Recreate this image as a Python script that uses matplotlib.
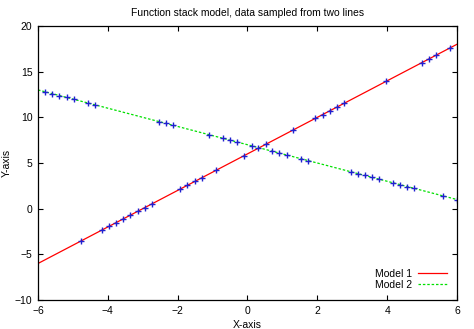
import matplotlib
matplotlib.use("Agg")
import matplotlib.pyplot as plt

# model lines (endpoints over the plotted range)
model1_x = [-6, 6]
model1_y = [-6, 18]
model2_x = [-6, 6]
model2_y = [13, 1]

# sampled data points
data1_x = [-4.77, -4.17, -3.97, -3.77, -3.56, -3.36, -3.15, -2.94, -2.73,
           -1.93, -1.72, -1.51, -1.31, -0.90, -0.10, 0.52, 1.31, 1.94, 2.15,
           2.35, 2.56, 2.76, 3.97, 4.99, 5.20, 5.40, 5.81]
data1_y = [-3.54, -2.34, -1.94, -1.54, -1.12, -0.72, -0.30, 0.12, 0.54,
           2.14, 2.56, 2.98, 3.38, 4.20, 5.80, 7.04, 8.62, 9.88, 10.30,
           10.70, 11.12, 11.52, 13.94, 15.98, 16.40, 16.80, 17.62]
data2_x = [-5.80, -5.59, -5.39, -5.18, -4.98, -4.57, -4.37, -2.53, -2.33,
           -2.13, -1.10, -0.70, -0.50, -0.30, 0.12, 0.31, 0.71, 0.91, 1.13,
           1.54, 1.74, 2.96, 3.16, 3.36, 3.57, 3.77, 4.18, 4.38, 4.58, 4.78,
           5.60, 6.00]
data2_y = [12.80, 12.59, 12.39, 12.18, 11.98, 11.57, 11.37, 9.53, 9.33,
           9.13, 8.10, 7.70, 7.50, 7.30, 6.88, 6.69, 6.29, 6.09, 5.87,
           5.46, 5.26, 4.04, 3.84, 3.64, 3.43, 3.23, 2.82, 2.62, 2.42, 2.22,
           1.40, 1.00]

x_ticks = [-6, -4, -2, 0, 2, 4, 6]
y_ticks = [-10, -5, 0, 5, 10, 15, 20]

plt.rcParams['font.family'] = ['Liberation Sans', 'DejaVu Sans']
plt.rcParams['font.size'] = 7.5

fig = plt.figure(figsize=(4.74, 3.29), dpi=100)
ax = fig.add_axes([0.0802, 0.0881, 0.8839, 0.8329])

ax.plot(model1_x, model1_y, color='#ff0000', lw=0.9, label='Model 1')
ax.plot(model2_x, model2_y, color='#00e000', lw=0.9, ls=(0, (2, 1.5)),
        label='Model 2')
ax.plot(data1_x, data1_y, '+', color='#2020d0', ms=5, mew=1.0)
ax.plot(data2_x, data2_y, '+', color='#2020d0', ms=5, mew=1.0)

ax.set_xlim(-6, 6)
ax.set_ylim(-10, 20)
ax.set_xticks(x_ticks)
ax.set_yticks(y_ticks)
ax.tick_params(direction='in', length=3.5, width=0.8, top=True, right=True,
               pad=4, labelsize=7.5)
for s in ax.spines.values():
    s.set_linewidth(0.9)

ax.set_title("Function stack model, data sampled from two lines",
             fontsize=7.5, pad=7)
ax.set_xlabel("X-axis", fontsize=7.5, labelpad=3)
ax.set_ylabel("Y-axis", fontsize=7.5)
ax.yaxis.set_label_coords(-0.062, 0.5)

ax.legend(loc='lower right', frameon=False, markerfirst=False,
          handlelength=2.7, handletextpad=0.6, labelspacing=0.05,
          borderaxespad=0.6, fontsize=7.5)

fig.savefig("out.png", dpi=100)
